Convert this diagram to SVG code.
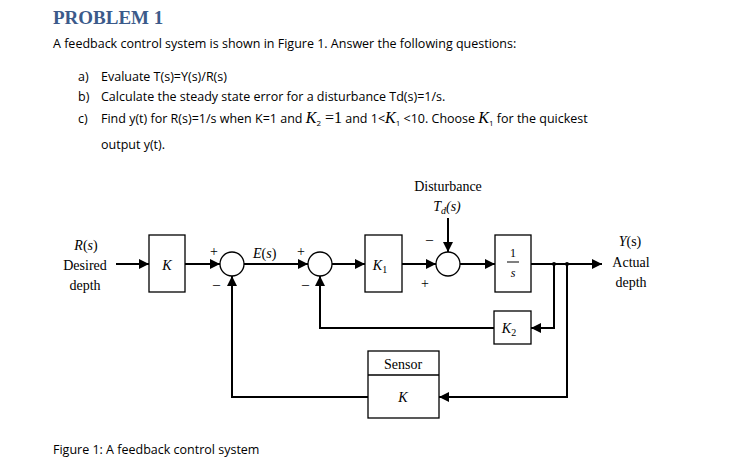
<svg xmlns="http://www.w3.org/2000/svg" width="733" height="474" viewBox="0 0 733 474">
<defs>
<marker id="ah" viewBox="0 0 10 10" refX="10" refY="5" markerWidth="10" markerHeight="10" markerUnits="userSpaceOnUse" orient="auto"><path d="M0,0 L10,5 L0,10 z" fill="#000"/></marker>
<style>
.t{font-family:"Open Sans","Liberation Sans",sans-serif;font-size:12.5px;fill:#000}
.s{font-family:"Liberation Serif",serif;font-size:14px;fill:#000}
.i{font-style:italic}
.b{fill:#fff;stroke:#000;stroke-width:1.3}
.c{fill:none;stroke:#000;stroke-width:2}
</style>
</defs>
<rect width="733" height="474" fill="#fff"/>
<text x="53" y="24" style="font-family:'Liberation Serif',serif;font-weight:bold;font-size:19px;fill:#3b5a8a">PROBLEM 1</text>
<text class="t" x="53" y="48">A feedback control system is shown in Figure 1. Answer the following questions:</text>
<text class="t" x="78" y="81">a)</text><text class="t" x="101" y="81">Evaluate T(s)=Y(s)/R(s)</text>
<text class="t" x="78" y="101">b)</text><text class="t" x="101" y="101">Calculate the steady state error for a disturbance Td(s)=1/s.</text>
<text class="t" x="78" y="123">c)</text><text class="t" x="101" y="123">Find y(t) for R(s)=1/s when K=1 and <tspan class="s i" style="font-size:16px">K</tspan><tspan style="font-size:8px" dy="3">2</tspan><tspan dy="-3" class="s" style="font-size:16px"> =1</tspan>  and 1&lt;<tspan class="s i" style="font-size:16px">K</tspan><tspan style="font-size:8px" dy="3">1</tspan><tspan dy="-3">  &lt;10. Choose </tspan><tspan class="s i" style="font-size:16px">K</tspan><tspan style="font-size:8px" dy="3">1</tspan><tspan dy="-3">  for the quickest</tspan></text>
<text class="t" x="101" y="149">output y(t).</text>

<g id="connectors" class="c">
<line x1="116" y1="264" x2="149" y2="264" marker-end="url(#ah)"/>
<line x1="185" y1="264" x2="220" y2="264" marker-end="url(#ah)"/>
<line x1="244" y1="264" x2="308" y2="264" marker-end="url(#ah)"/>
<line x1="332" y1="264" x2="365" y2="264" marker-end="url(#ah)"/>
<line x1="402" y1="264" x2="436" y2="264" marker-end="url(#ah)"/>
<line x1="448" y1="218" x2="448" y2="252" marker-end="url(#ah)"/>
<line x1="460" y1="264" x2="495" y2="264" marker-end="url(#ah)"/>
<line x1="531" y1="264" x2="602" y2="264" marker-end="url(#ah)"/>
<polyline points="554,264 554,328 531,328" marker-end="url(#ah)"/>
<polyline points="494,328 320,328 320,276" marker-end="url(#ah)"/>
<polyline points="567,264 567,397 439,397" marker-end="url(#ah)"/>
<polyline points="368,397 232,397 232,276" marker-end="url(#ah)"/>
<circle cx="554" cy="264" r="2" fill="#000" stroke="none"/>
<circle cx="567" cy="264" r="2" fill="#000" stroke="none"/>
</g>
<g id="K"><rect class="b" x="149" y="235" width="36" height="57"/><text class="s i" x="167" y="270" text-anchor="middle">K</text></g>
<g id="sum1"><circle class="b" cx="232" cy="264" r="12"/><text class="s" x="210" y="256">+</text><text class="s" x="213" y="289">–</text></g>
<g id="sum2"><circle class="b" cx="320" cy="264" r="12"/><text class="s" x="297" y="256">+</text><text class="s" x="302" y="289">–</text></g>
<text class="s" x="253" y="258"><tspan class="i">E</tspan>(<tspan class="i">s</tspan>)</text>
<g id="K1"><rect class="b" x="365" y="235" width="37" height="57"/><text class="s i" x="380" y="270" text-anchor="middle">K<tspan style="font-size:10px;font-style:normal" dy="3">1</tspan></text></g>
<g id="sum3"><circle class="b" cx="448" cy="264" r="12"/><text class="s" x="426" y="244">–</text><text class="s" x="421" y="288">+</text></g>
<g id="dist"><text class="s" x="448" y="191" text-anchor="middle">Disturbance</text><text class="s i" x="447" y="211" text-anchor="middle">T<tspan style="font-size:10px" dy="3">d</tspan><tspan dy="-3">(s)</tspan></text></g>
<g id="integ"><rect class="b" x="495" y="235" width="36" height="57"/><text class="s" x="513" y="257" text-anchor="middle" style="font-size:12px">1</text><line x1="507" y1="262" x2="519" y2="262" stroke="#000"/><text class="s i" x="513" y="277" text-anchor="middle" style="font-size:12px">s</text></g>
<g id="K2"><rect class="b" x="494" y="311" width="37" height="33"/><text class="s i" x="509" y="333" text-anchor="middle">K<tspan style="font-size:10px;font-style:normal" dy="3">2</tspan></text></g>
<g id="sensor"><rect class="b" x="368" y="351" width="71" height="67"/><line x1="368" y1="375" x2="439" y2="375" stroke="#000" stroke-width="1.3"/><text class="s" x="403" y="369" text-anchor="middle">Sensor</text><text class="s i" x="403" y="402" text-anchor="middle">K</text></g>
<g id="input"><text class="s" x="86" y="250" text-anchor="middle"><tspan class="i">R</tspan>(<tspan class="i">s</tspan>)</text><text class="s" x="85" y="270" text-anchor="middle">Desired</text><text class="s" x="85" y="290" text-anchor="middle">depth</text></g>
<g id="output"><text class="s" x="630" y="246" text-anchor="middle"><tspan class="i">Y</tspan>(s)</text><text class="s" x="631" y="267" text-anchor="middle">Actual</text><text class="s" x="631" y="287" text-anchor="middle">depth</text></g>
<text class="t" x="53" y="454">Figure 1: A feedback control system</text>
</svg>
